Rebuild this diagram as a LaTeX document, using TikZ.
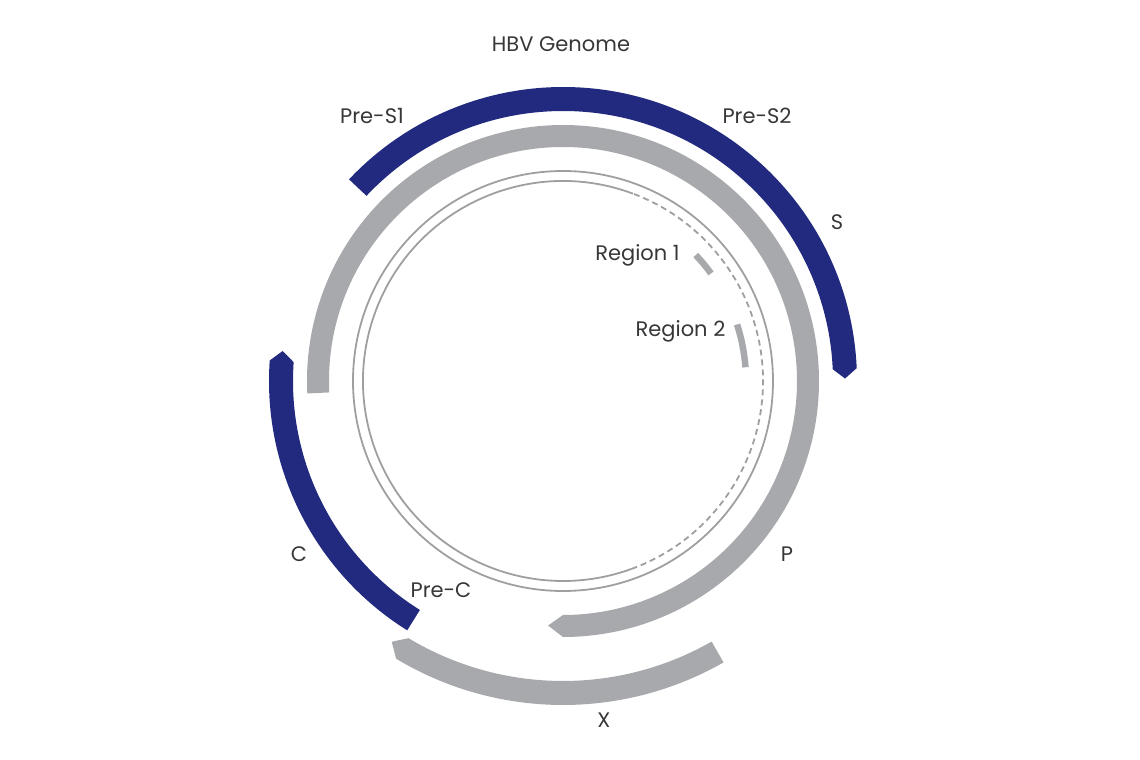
\documentclass[tikz,border=0pt]{standalone}
\usepackage{fontspec}
\setmainfont{Poppins}
\usepackage{tikz}
\definecolor{azul}{RGB}{33,42,127}
\definecolor{gris}{RGB}{167,169,172}
\definecolor{grislinea}{RGB}{158,159,161}
\definecolor{texto}{RGB}{55,55,55}

\begin{document}
\begin{tikzpicture}[x=1pt,y=1pt,
gen/.style={fill=azul},
genp/.style={fill=gris},
anillo/.style={draw=grislinea,line width=1.8pt},
trazo/.style={draw=grislinea,line width=1.8pt,dash pattern=on 6pt off 4pt},
region/.style={draw=gris,line width=6.5pt},
lbl/.style={font=\fontsize{21}{25}\selectfont,text=texto,inner sep=0pt,anchor=base}
]
\useasboundingbox (-563,-379) rectangle (577,381);

\fill[gen] (136.7:270) arc[start angle=136.7,end angle=2.5,radius=270] -- (0.5:282) -- (2.5:294) arc[start angle=2.5,end angle=136.7,radius=294] -- cycle;
\fill[gen] (238:270) arc[start angle=238,end angle=176,radius=270] -- (173.9:282) -- (176:294) arc[start angle=176,end angle=238,radius=294] -- cycle;
\fill[genp] (182.8:234) arc[start angle=182.8,end angle=-90,radius=234] -- (-93.5:245) -- (-90:256) arc[start angle=-90,end angle=182.8,radius=256] -- cycle;
\fill[genp] (-60.3:300) arc[start angle=-60.3,end angle=-121,radius=300] -- (-123.3:312) -- (-121:324) arc[start angle=-121,end angle=-60.3,radius=324] -- cycle;

\draw[anillo] (0,0) circle[radius=210];
\draw[anillo] (69.5:200) arc[start angle=69.5,end angle=290,radius=200];
\draw[trazo] (-70:200) arc[start angle=-70,end angle=69.5,radius=200];

\draw[region] (43.5:183) arc[start angle=43.5,end angle=36,radius=183];
\draw[region] (18:183) arc[start angle=18,end angle=4.3,radius=183];

\node[lbl] (hbv) at (-2,329) {HBV Genome};
\node[lbl] (pres1) at (-191,257) {Pre-S1};
\node[lbl] (pres2) at (194,257) {Pre-S2};
\node[lbl] (s) at (274,151) {S};
\node[lbl] (reg1) at (74.5,120) {Region 1};
\node[lbl] (reg2) at (117.5,44) {Region 2};
\node[lbl] (c) at (-264,-180) {C};
\node[lbl] (prec) at (-122,-216) {Pre-C};
\node[lbl] (p) at (224,-180) {P};
\node[lbl] (x) at (41,-346) {X};
\end{tikzpicture}
\end{document}
